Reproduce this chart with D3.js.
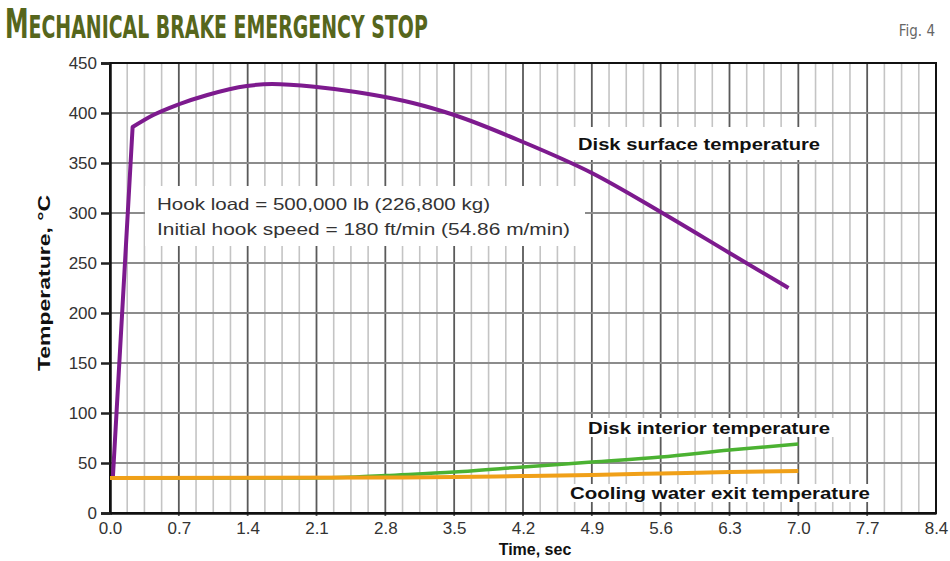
<!DOCTYPE html>
<html>
<head>
<meta charset="utf-8">
<script src="https://cdn.jsdelivr.net/npm/d3@7"></script>
<style>
  html, body { margin: 0; padding: 0; background: #fff; }
  svg { display: block; }
</style>
</head>
<body>
<svg id="chart" width="950" height="561"></svg>
<script>
// ---- data ----
const xTicks = [0.0, 0.7, 1.4, 2.1, 2.8, 3.5, 4.2, 4.9, 5.6, 6.3, 7.0, 7.7, 8.4];
const yTicks = [0, 50, 100, 150, 200, 250, 300, 350, 400, 450];

const surfaceTime = [0.03, 0.23, 0.44, 0.68, 0.99, 1.39, 1.65, 2.1, 2.5, 2.85, 3.08, 3.5, 4.2, 4.9, 5.6, 6.3, 6.9];
const surfaceTemp = [37, 386, 398, 408, 418, 427, 429, 426, 421, 415, 410, 398, 371, 340, 301, 260, 225];

const interiorTime = [0.0, 2.0, 2.5, 2.8, 3.5, 4.2, 4.9, 5.6, 6.3, 7.0];
const interiorTemp = [35, 35, 36, 37.5, 41, 46, 51, 56, 63, 69];

const waterTime = [0.0, 2.8, 3.5, 4.2, 4.9, 5.6, 6.3, 7.0];
const waterTemp = [35, 35.5, 36, 37, 38, 39.5, 41, 42];

const titleFirst = "M";
const titleRest = "ECHANICAL BRAKE EMERGENCY STOP";
const annotationLines = ["Hook load = 500,000 lb (226,800 kg)", "Initial hook speed = 180 ft/min (54.86 m/min)"];

// ---- layout ----
const svg = d3.select("#chart");
const L = 110, R = 936, T = 63, B = 513;
const x = d3.scaleLinear().domain([0, 8.4]).range([L, R]);
const y = d3.scaleLinear().domain([0, 450]).range([B, T]);

const sans = "Liberation Sans, Arial, Helvetica, sans-serif";
const narrow = "Liberation Sans Narrow, DejaVu Sans Condensed, Arial Narrow, sans-serif";

// minor vertical grid
const minor = d3.range(0, 8.4 + 1e-9, 0.175).filter(v => Math.abs(v / 0.7 - Math.round(v / 0.7)) > 1e-6);
svg.append("g").selectAll("line").data(minor).join("line")
  .attr("x1", d => x(d)).attr("x2", d => x(d)).attr("y1", T).attr("y2", B)
  .attr("stroke", "#c4c4c4").attr("stroke-width", 1.6);

// major vertical grid
svg.append("g").selectAll("line").data(xTicks.slice(1, -1)).join("line")
  .attr("x1", d => x(d)).attr("x2", d => x(d)).attr("y1", T).attr("y2", B + 3)
  .attr("stroke", "#5a5a5a").attr("stroke-width", 1.8);

// horizontal grid
svg.append("g").selectAll("line").data(yTicks.slice(1, -1)).join("line")
  .attr("x1", L).attr("x2", R).attr("y1", d => y(d)).attr("y2", d => y(d))
  .attr("stroke", "#8c8c8c").attr("stroke-width", 1.8);

// white label boxes (cover grid)
const boxes = [
  [145, 186, 440, 60],
  [570, 127, 262, 33],
  [582, 418, 252, 19],
  [562, 484, 312, 18]
];
svg.append("g").selectAll("rect").data(boxes).join("rect")
  .attr("x", d => d[0]).attr("y", d => d[1]).attr("width", d => d[2]).attr("height", d => d[3])
  .attr("fill", "#fff");

// frame
svg.append("rect").attr("x", L).attr("y", T).attr("width", R - L).attr("height", B - T)
  .attr("fill", "none").attr("stroke", "#111").attr("stroke-width", 2);

// axes
const yAxis = d3.axisLeft(y).tickValues(yTicks).tickSize(9).tickPadding(4).tickFormat(d3.format("d"));
const gy = svg.append("g").attr("transform", `translate(${L},0)`).call(yAxis);
gy.select(".domain").attr("stroke", "#111").attr("stroke-width", 2.5);
gy.selectAll(".tick line").attr("stroke", "#222").attr("stroke-width", 2.5);
gy.selectAll(".tick text").attr("font-family", sans).attr("font-size", 17).attr("fill", "#333");

const xAxis = d3.axisBottom(x).tickValues(xTicks).tickSize(0).tickPadding(9).tickFormat(d3.format(".1f"));
const gx = svg.append("g").attr("transform", `translate(0,${B})`).call(xAxis);
gx.select(".domain").attr("stroke", "#111").attr("stroke-width", 2.5);
gx.selectAll(".tick text").attr("font-family", sans).attr("font-size", 17).attr("fill", "#333");

// lines
const smooth = d3.line().x(d => x(d[0])).y(d => y(d[1])).curve(d3.curveMonotoneX);
const straight = d3.line().x(d => x(d[0])).y(d => y(d[1]));

const interiorPts = d3.zip(interiorTime, interiorTemp);
svg.append("path").datum(interiorPts).attr("d", smooth)
  .attr("fill", "none").attr("stroke", "#4bb232").attr("stroke-width", 3.5);

const waterPts = d3.zip(waterTime, waterTemp);
svg.append("path").datum(waterPts).attr("d", smooth)
  .attr("fill", "none").attr("stroke", "#f0a018").attr("stroke-width", 4);

// surface: sharp initial rise (straight segment), then smooth curve
const surfacePts = d3.zip(surfaceTime, surfaceTemp);
const rise = straight(surfacePts.slice(0, 2));
const rest = smooth(surfacePts.slice(1));
svg.append("path").attr("d", rise + "L" + rest.slice(1))
  .attr("fill", "none").attr("stroke", "#7d1a8e").attr("stroke-width", 4)
  .attr("stroke-linejoin", "round");

// series labels
const labels = [
  { text: "Disk surface temperature", x: 578, y: 150, w: 242 },
  { text: "Disk interior temperature", x: 588, y: 434, w: 242 },
  { text: "Cooling water exit temperature", x: 570, y: 499, w: 300 }
];
svg.append("g").selectAll("text").data(labels).join("text")
  .attr("x", d => d.x).attr("y", d => d.y)
  .attr("textLength", d => d.w).attr("lengthAdjust", "spacingAndGlyphs")
  .attr("font-family", sans).attr("font-weight", "bold").attr("font-size", 16.5).attr("fill", "#111")
  .text(d => d.text);

// annotation
svg.append("g").selectAll("text").data(annotationLines).join("text")
  .attr("x", 157).attr("y", (d, i) => 210 + i * 25)
  .attr("textLength", (d, i) => i === 0 ? 333 : 413).attr("lengthAdjust", "spacingAndGlyphs")
  .attr("font-family", sans).attr("font-size", 16.5).attr("fill", "#333")
  .text(d => d);

// axis titles
svg.append("text").attr("x", 535).attr("y", 555).attr("text-anchor", "middle")
  .attr("font-family", sans).attr("font-weight", "bold").attr("font-size", 16).attr("fill", "#111")
  .text("Time, sec");
svg.append("text").attr("transform", "translate(50,283) rotate(-90)").attr("text-anchor", "middle")
  .attr("font-family", sans).attr("font-weight", "bold").attr("font-size", 16).attr("fill", "#111")
  .attr("textLength", 176).attr("lengthAdjust", "spacingAndGlyphs")
  .text("Temperature, °C");

// title (small caps: large first letter + rest), horizontally condensed to fit
const titleG = svg.append("g").attr("transform", "translate(5,38)");
const title = titleG.append("text").attr("x", 0).attr("y", 0)
  .attr("font-family", narrow).attr("font-weight", "bold").attr("fill", "#56661c");
title.append("tspan").attr("font-size", 40).text(titleFirst);
title.append("tspan").attr("font-size", 32).text(titleRest);
const natural = title.node().getComputedTextLength() || 540;
titleG.attr("transform", `translate(5,38) scale(${423 / natural},1)`);

svg.append("text").attr("x", 935).attr("y", 36).attr("text-anchor", "end")
  .attr("font-family", narrow)
  .attr("font-size", 15).attr("fill", "#666").text("Fig. 4");
</script>
</body>
</html>
